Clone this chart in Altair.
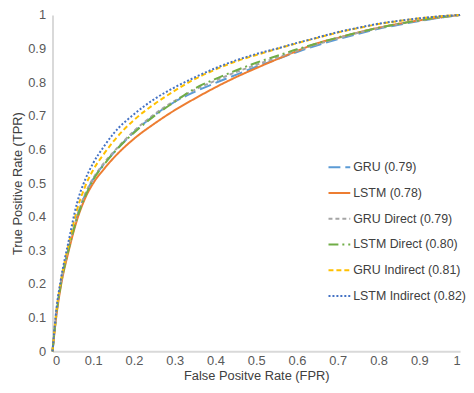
import altair as alt
import pandas as pd

fpr = [0, 0.01, 0.02, 0.04, 0.06, 0.08, 0.1, 0.125, 0.15, 0.2, 0.25, 0.3, 0.35, 0.4,
       0.45, 0.5, 0.55, 0.6, 0.65, 0.7, 0.75, 0.8, 0.85, 0.9, 0.95, 1.0]

series_names = ["GRU (0.79)", "LSTM (0.78)", "GRU Direct (0.79)", "LSTM Direct (0.80)",
                "GRU Indirect (0.81)", "LSTM Indirect (0.82)"]

gru = [0, 0.12, 0.20, 0.31, 0.40, 0.465, 0.512, 0.555, 0.59, 0.652, 0.702, 0.742, 0.772, 0.798,
       0.822, 0.846, 0.868, 0.89, 0.91, 0.928, 0.944, 0.959, 0.971, 0.982, 0.992, 1.0]
lstm = [0, 0.11, 0.19, 0.30, 0.39, 0.455, 0.50, 0.54, 0.575, 0.632, 0.677, 0.717, 0.752, 0.785,
        0.815, 0.842, 0.868, 0.893, 0.916, 0.932, 0.948, 0.962, 0.974, 0.984, 0.993, 1.0]
gru_direct = [0, 0.12, 0.20, 0.31, 0.40, 0.468, 0.515, 0.558, 0.593, 0.655, 0.705, 0.745, 0.778, 0.805,
              0.83, 0.852, 0.873, 0.894, 0.913, 0.931, 0.947, 0.961, 0.973, 0.983, 0.992, 1.0]
lstm_direct = [0, 0.115, 0.195, 0.305, 0.395, 0.46, 0.51, 0.553, 0.59, 0.65, 0.70, 0.742, 0.782, 0.81,
               0.835, 0.858, 0.878, 0.898, 0.916, 0.933, 0.948, 0.962, 0.974, 0.984, 0.993, 1.0]
gru_indirect = [0, 0.125, 0.205, 0.32, 0.42, 0.49, 0.54, 0.585, 0.625, 0.688, 0.735, 0.775, 0.81, 0.838,
                0.862, 0.881, 0.899, 0.916, 0.932, 0.948, 0.961, 0.973, 0.982, 0.99, 0.996, 1.0]
lstm_indirect = [0, 0.13, 0.21, 0.33, 0.44, 0.51, 0.56, 0.607, 0.648, 0.705, 0.75, 0.785, 0.815, 0.842,
                 0.865, 0.884, 0.90, 0.917, 0.933, 0.949, 0.962, 0.974, 0.983, 0.99, 0.996, 1.0]

all_tpr = [gru, lstm, gru_direct, lstm_direct, gru_indirect, lstm_indirect]

colors = ["#5B9BD5", "#ED7D31", "#A5A5A5", "#70AD47", "#FFC000", "#4472C4"]
dashes = [[12, 5], [1, 0], [4, 3], [10, 4, 2, 4], [5, 3], [2, 2]]

tick_vals = [0, 0.1, 0.2, 0.3, 0.4, 0.5, 0.6, 0.7, 0.8, 0.9, 1]

rows = []
for i, (name, tpr) in enumerate(zip(series_names, all_tpr)):
    for k, (x, y) in enumerate(zip(fpr, tpr)):
        rows.append({"series": name, "fpr": x, "tpr": y, "idx": k})
df = pd.DataFrame(rows)

font = "Liberation Sans"
grey = "#595959"


def make_legend():
    return alt.Legend(title=None, orient="none", legendX=278, legendY=142,
                      symbolType="stroke", symbolSize=484, symbolStrokeWidth=2,
                      labelFontSize=12.5, labelFont=font, labelColor="#404040",
                      labelOffset=2, rowPadding=7, padding=0, labelLimit=200)


chart = alt.Chart(df).mark_line(strokeWidth=2, interpolate="monotone").encode(
    x=alt.X("fpr:Q", scale=alt.Scale(domain=[0, 1], nice=False),
            axis=alt.Axis(values=tick_vals, format="~g", title="False Positve Rate (FPR)",
                          ticks=False, grid=False, labelPadding=3, titlePadding=2,
                          domainColor="#D9D9D9", domainWidth=2)),
    y=alt.Y("tpr:Q", scale=alt.Scale(domain=[0, 1], nice=False),
            axis=alt.Axis(values=tick_vals, format="~g", title="True Positive Rate (TPR)",
                          ticks=False, grid=False, labelPadding=7, titlePadding=3,
                          domainColor="#D9D9D9", domainWidth=2)),
    color=alt.Color("series:N", scale=alt.Scale(domain=series_names, range=colors),
                    legend=make_legend()),
    strokeDash=alt.StrokeDash("series:N", scale=alt.Scale(domain=series_names, range=dashes),
                              legend=make_legend()),
    order="idx:Q",
    detail="series:N",
).properties(
    width=412, height=340,
    autosize=alt.AutoSizeParams(type="none"),
    padding={"left": 45, "top": 5, "right": 6, "bottom": 32},
).configure_axis(
    labelFont=font, titleFont=font, labelFontSize=13, titleFontSize=13,
    labelColor=grey, titleColor="#404040", titleFontWeight="normal",
).configure_view(stroke=None)

chart.save("out.html", embed_options={"renderer": "svg", "actions": False})
